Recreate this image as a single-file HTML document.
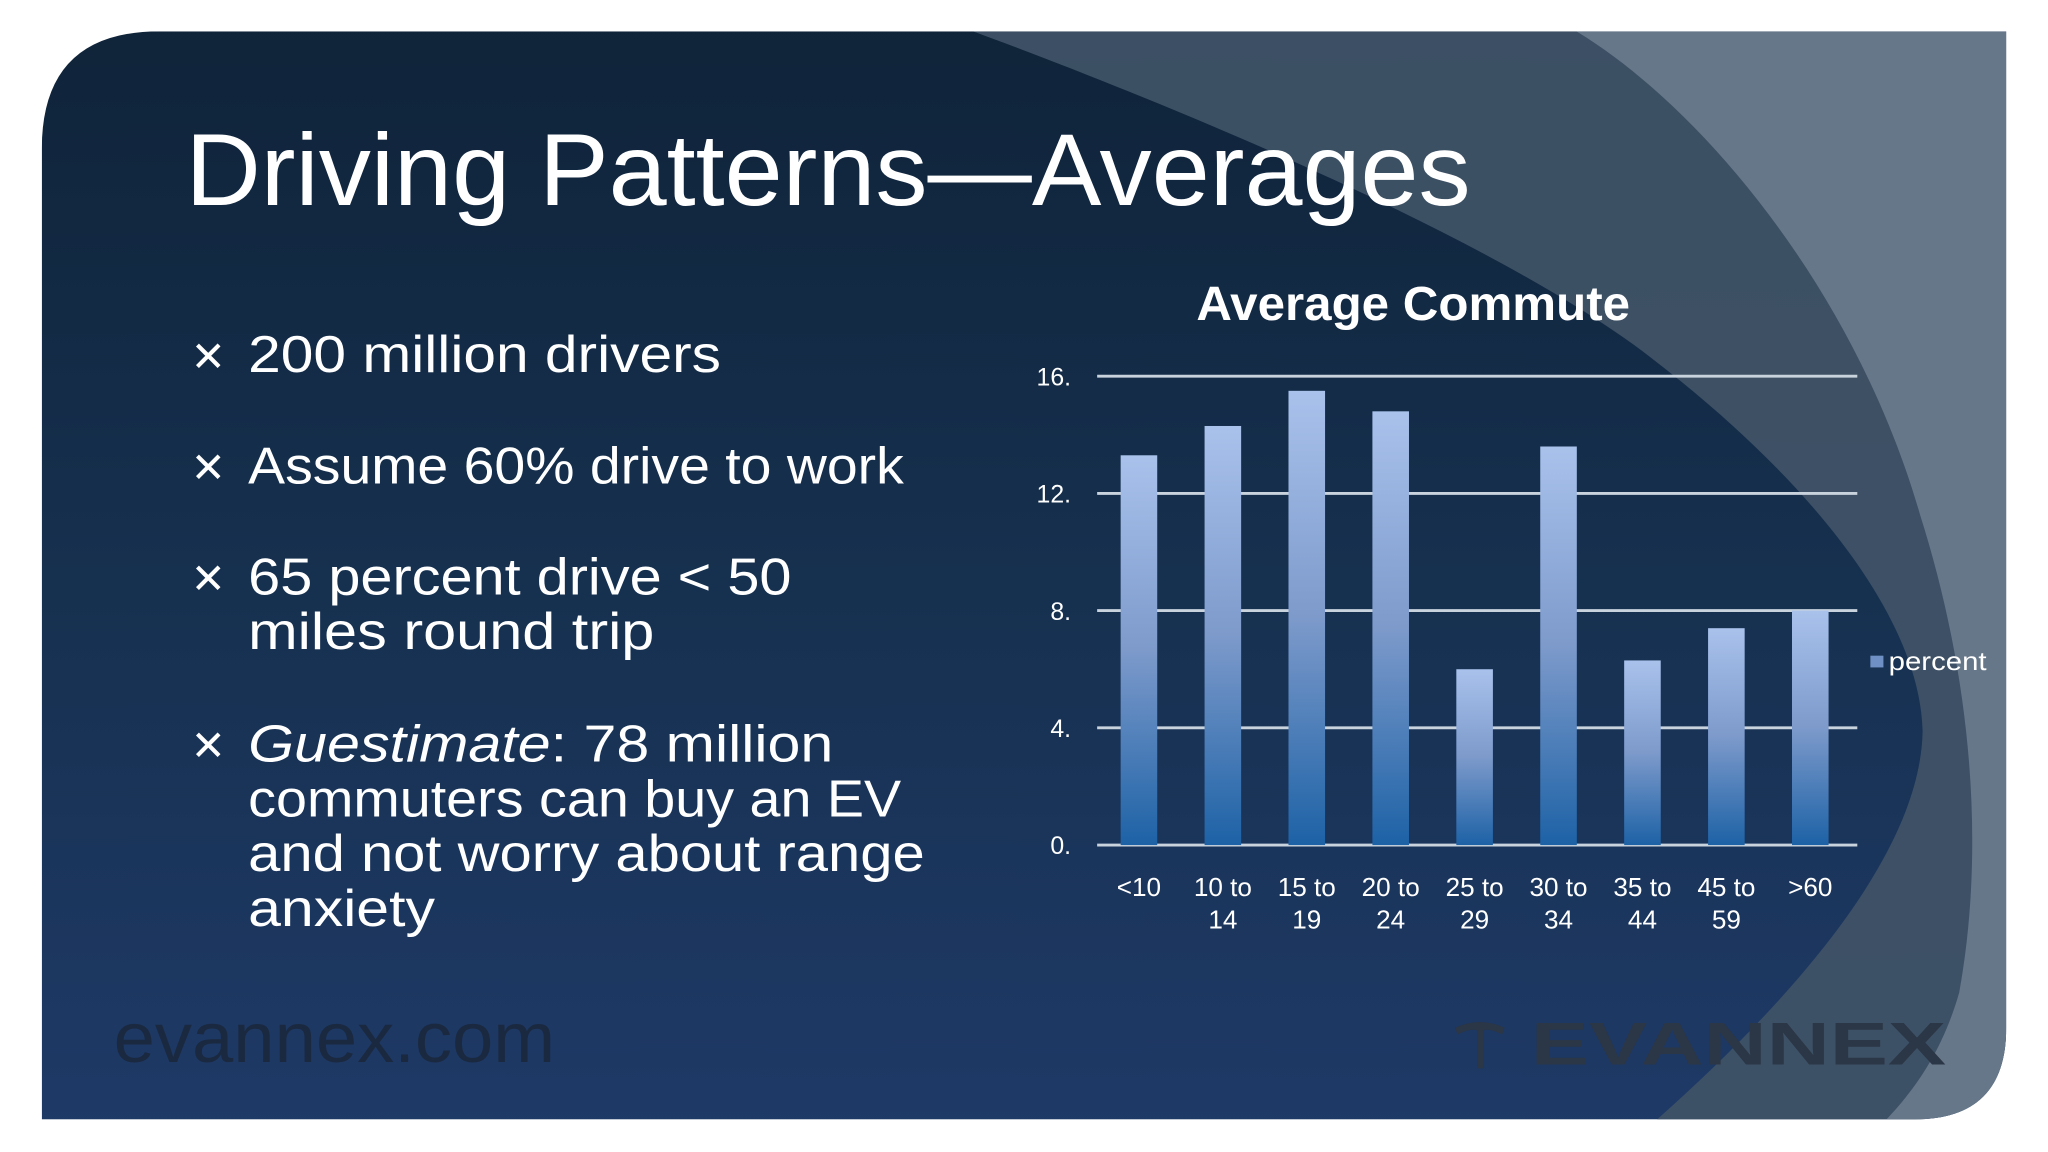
<!DOCTYPE html>
<html><head><meta charset="utf-8"><style>
html,body{margin:0;padding:0;background:#fff;width:2048px;height:1152px;overflow:hidden}
svg{display:block}
text{font-family:"Liberation Sans","DejaVu Sans",sans-serif}
</style></head><body>
<svg id="slide" width="2048" height="1152" viewBox="0 0 1568 882" preserveAspectRatio="none" xmlns="http://www.w3.org/2000/svg">
<defs>
<linearGradient id="bg" x1="0" y1="0" x2="0" y2="1">
<stop offset="0" stop-color="#0f2338"/><stop offset="0.5" stop-color="#16304f"/><stop offset="1" stop-color="#1f3a68"/></linearGradient>
<linearGradient id="barg" x1="0" y1="0" x2="0" y2="1">
<stop offset="0" stop-color="#a9c2ec"/><stop offset="0.5" stop-color="#7d9acb"/><stop offset="1" stop-color="#1d62a6"/></linearGradient>
<clipPath id="panelclip"><path d="M122 24 H1536 V787 Q1536 857 1466 857 H32 V114 Q32 24 122 24 Z"/></clipPath>
</defs>
<rect width="1568" height="882" fill="#fff"/>
<g clip-path="url(#panelclip)">
<rect x="0" y="0" width="1568" height="882" fill="url(#bg)"/>
<path d="M745 24 C870 70 1120 170 1251 264 C1380 360 1470 470 1472 560 C1470 660 1360 780 1240 882 L1568 882 L1568 0 Z" fill="#3f5266" opacity="0.95"/>
<path d="M1207 24 C1300 80 1420 220 1470 394 C1510 520 1520 650 1500 760 C1480 830 1440 860 1420 882 L1568 882 L1568 0 Z" fill="#667789"/>
</g>
<text x="142" y="157" font-size="78" fill="#fff" textLength="984" lengthAdjust="spacingAndGlyphs">Driving Patterns—Averages</text>
<g fill="#fff" font-size="40">
<text x="146" y="284" font-size="32">✕</text><text x="190" y="285" textLength="362" lengthAdjust="spacingAndGlyphs">200 million drivers</text>
<text x="146" y="369" font-size="32">✕</text><text x="190" y="370" textLength="502" lengthAdjust="spacingAndGlyphs">Assume 60% drive to work</text>
<text x="146" y="454" font-size="32">✕</text><text x="190" y="455" textLength="416" lengthAdjust="spacingAndGlyphs">65 percent drive &lt; 50</text>
<text x="190" y="497" textLength="311" lengthAdjust="spacingAndGlyphs">miles round trip</text>
<text x="146" y="582" font-size="32">✕</text><text x="190" y="583" textLength="448" lengthAdjust="spacingAndGlyphs"><tspan font-style="italic">Guestimate</tspan>: 78 million</text>
<text x="190" y="625" textLength="500" lengthAdjust="spacingAndGlyphs">commuters can buy an EV</text>
<text x="190" y="667" textLength="518" lengthAdjust="spacingAndGlyphs">and not worry about range</text>
<text x="190" y="709" textLength="143" lengthAdjust="spacingAndGlyphs">anxiety</text>
</g>
<text x="916" y="245" font-size="37" font-weight="bold" fill="#fff" textLength="332" lengthAdjust="spacingAndGlyphs">Average Commute</text>
<g id="chart"></g>
<rect x="1432" y="502" width="10" height="9" fill="#6f90c4"/>
<text x="1446" y="513" font-size="20" fill="#fff" textLength="75" lengthAdjust="spacingAndGlyphs">percent</text>
<text x="87" y="813" font-size="54" fill="#1a2940" textLength="338" lengthAdjust="spacingAndGlyphs">evannex.com</text>
<g fill="#2b3646">
<path d="M1114 787 Q1133 778 1152 787 L1150 792 Q1140 787 1136 789 L1136 818 L1131 818 L1131 789 Q1126 787 1116 792 Z"/>
<text x="1172" y="815" font-size="46" font-weight="bold" textLength="318" lengthAdjust="spacingAndGlyphs">EVANNEX</text>
</g>
<script>
const categories = ["<10","10 to|14","15 to|19","20 to|24","25 to|29","30 to|34","35 to|44","45 to|59",">60"];
const values = [13.3, 14.3, 15.5, 14.8, 6.0, 13.6, 6.3, 7.4, 8.0];
const ticks = [0, 4, 8, 12, 16];
const tickLabels = ["0.", "4.", "8.", "12.", "16."];
const NS = "http://www.w3.org/2000/svg";
const chart = document.getElementById('chart');
const x0 = 840, x1 = 1422, yZero = 647, yTop = 288, vMax = 16;
function yScale(v){ return yZero - (v / vMax) * (yZero - yTop); }
function xCenter(i){ return 872 + i * ((1386 - 872) / (categories.length - 1)); }
function mk(tag, attrs){ const e = document.createElementNS(NS, tag); for (const k in attrs) e.setAttribute(k, attrs[k]); chart.appendChild(e); return e; }
ticks.forEach((t, i) => {
  const y = yScale(t);
  const ln = mk('line', {x1: x0, x2: x1, y1: y, y2: y, stroke: '#c9d3de', 'stroke-width': 2.2});
  
  
  const tl = mk('text', {x: 820, y: y + 7, 'font-size': 19, fill: '#fff', 'text-anchor': 'end'});
  tl.textContent = tickLabels[i];
  
  
});
values.forEach((v, i) => {
  const cx = xCenter(i), w = 28, y = yScale(v);
  const r = mk('rect', {x: cx - w / 2, y: y, width: w, height: yZero - y, fill: 'url(#barg)'});
  
  
  const parts = categories[i].split('|');
  parts.forEach((p, j) => {
    const t = mk('text', {x: cx, y: 686 + j * 25, 'font-size': 20, fill: '#fff', 'text-anchor': 'middle'});
    t.textContent = p;
    
    
  });
});
</script>
</svg>
</body></html>
